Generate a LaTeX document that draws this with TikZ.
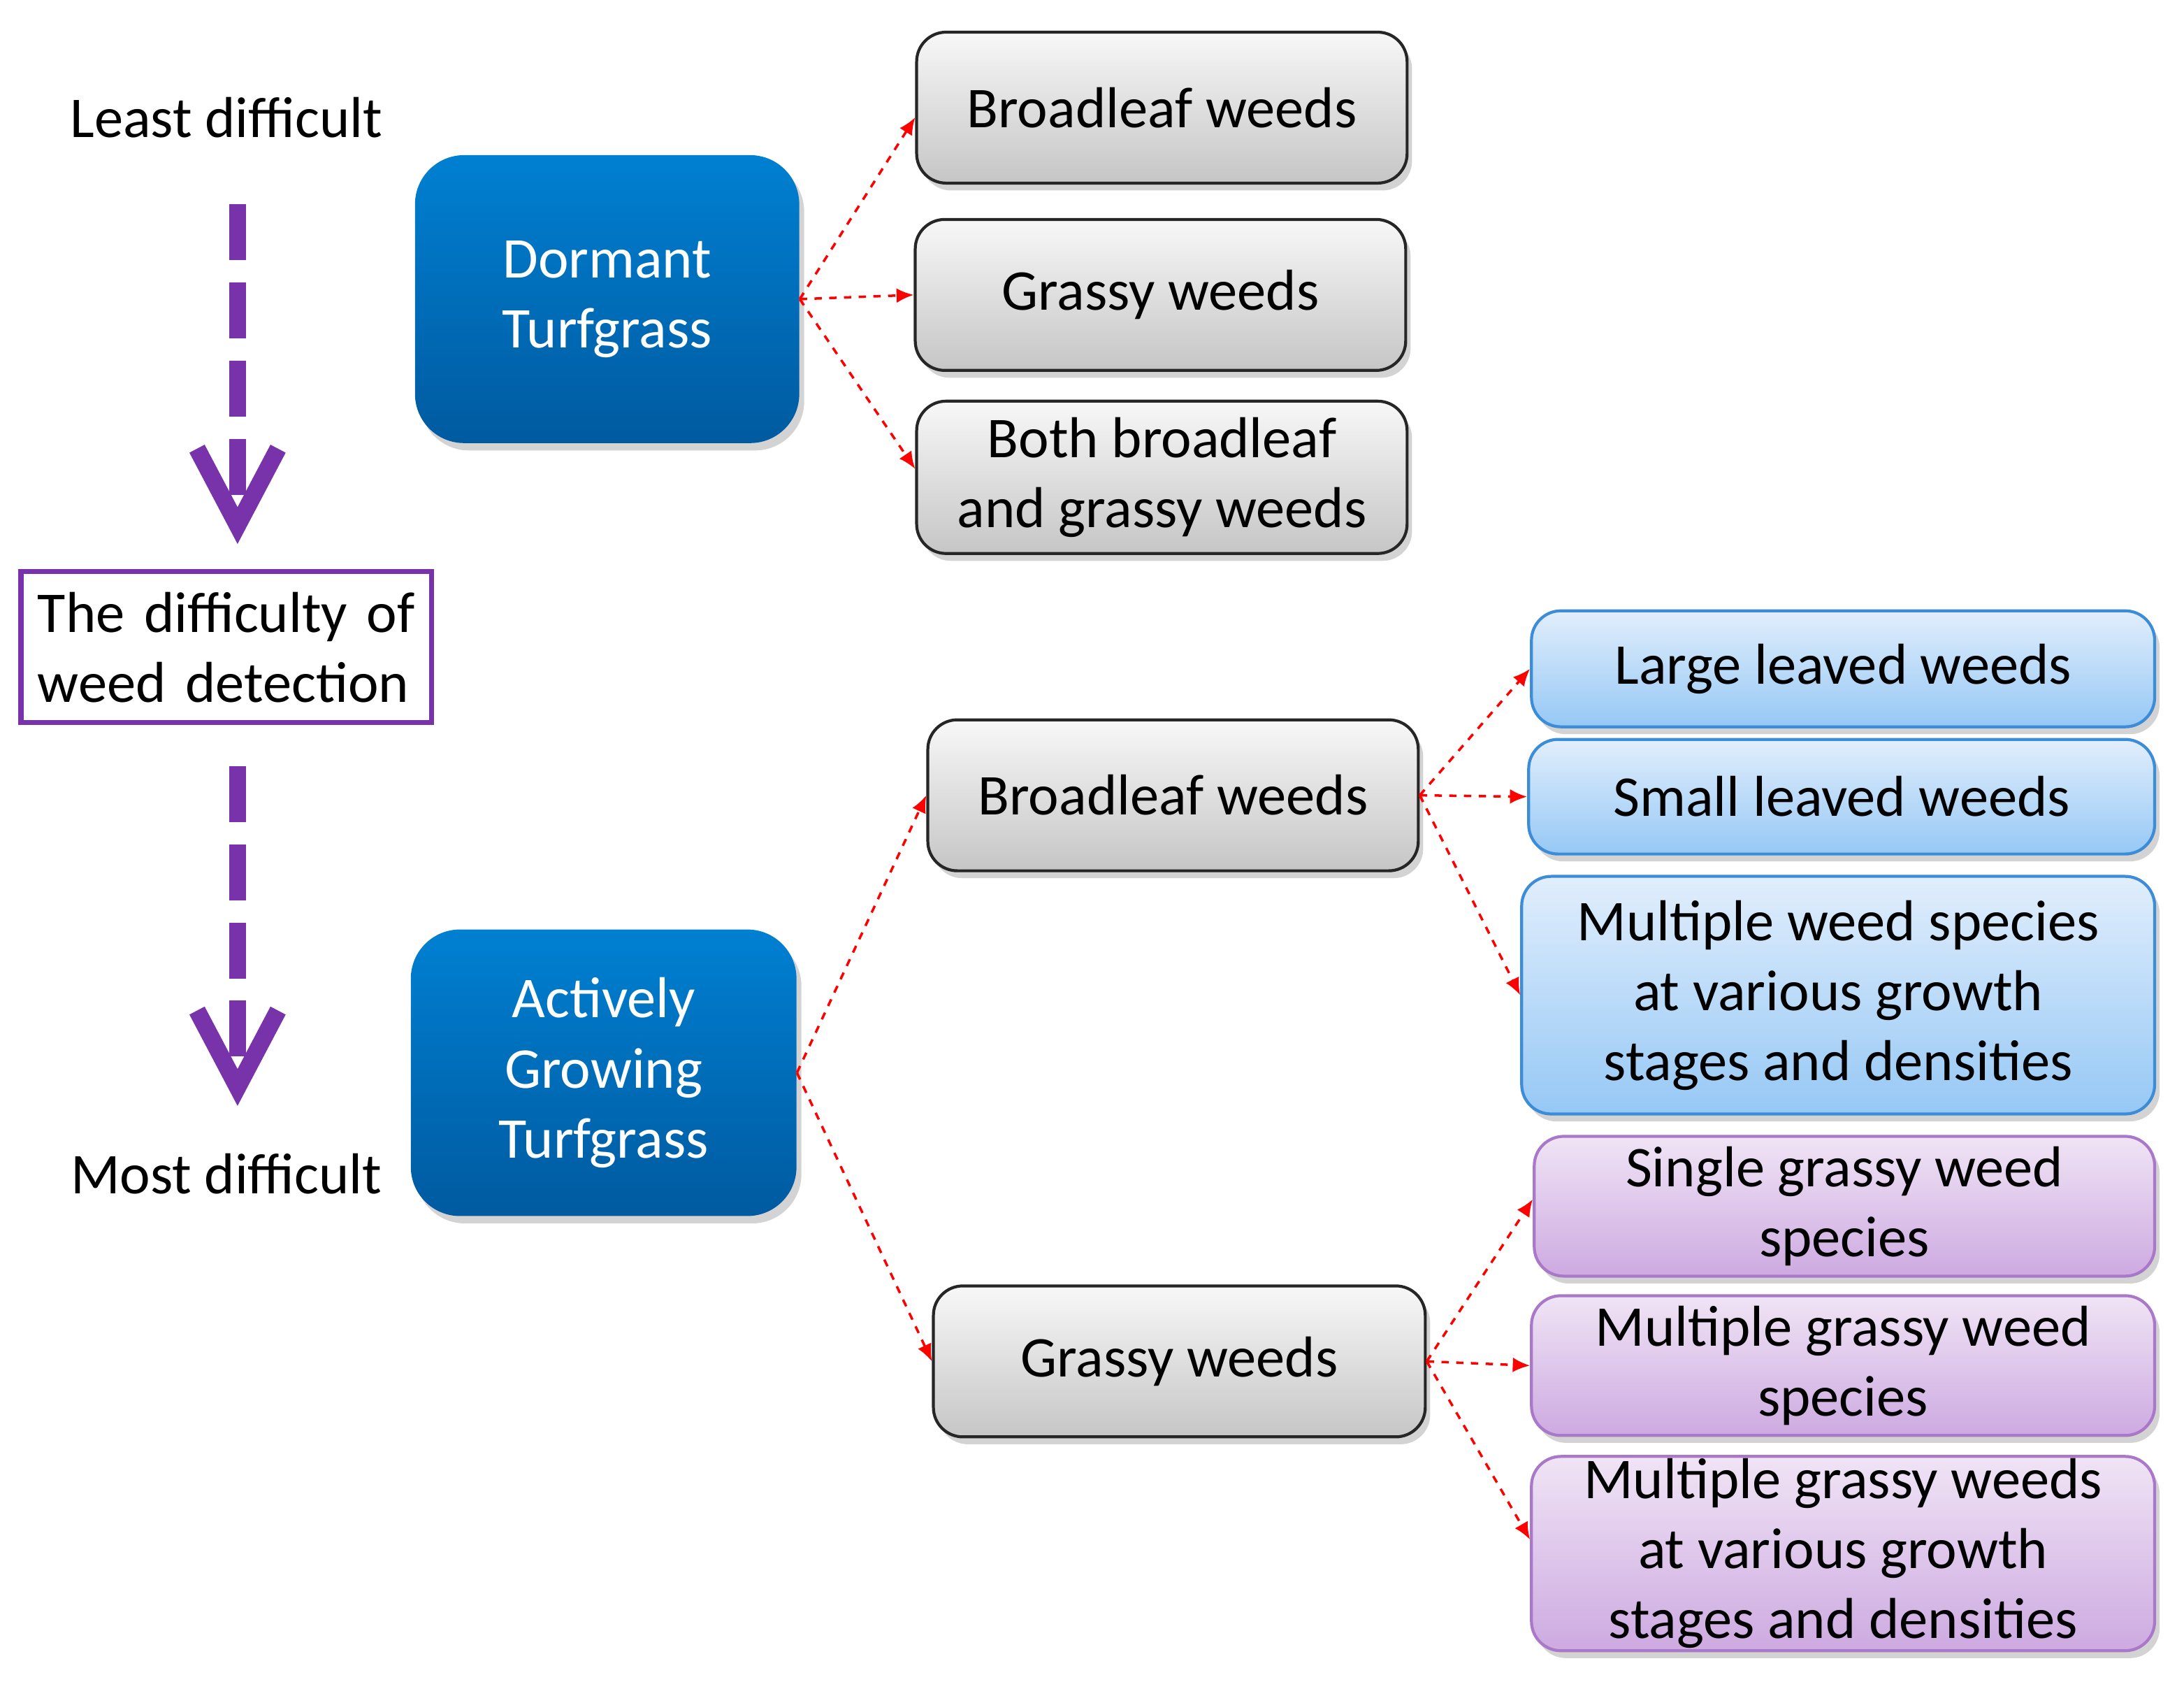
\documentclass[tikz,border=0pt]{standalone}
\usepackage{fontspec}
\setmainfont{Carlito}
\usetikzlibrary{shadows,arrows.meta}
\definecolor{bluetop}{RGB}{0,128,210}
\definecolor{bluebot}{RGB}{0,90,160}
\definecolor{purp}{RGB}{120,50,170}
\definecolor{lbtop}{RGB}{225,238,252}
\definecolor{lbbot}{RGB}{150,200,245}
\definecolor{lbdraw}{RGB}{60,140,215}
\definecolor{lptop}{RGB}{240,228,245}
\definecolor{lpbot}{RGB}{205,170,225}
\definecolor{lpdraw}{RGB}{170,120,200}
\begin{document}
\begin{tikzpicture}[x=0.02cm,y=-0.02cm,
 txt/.style={font=\fontsize{23.5}{28.5}\selectfont,align=center},
 bx/.style={txt,rounded corners=12pt,draw=black!85,line width=1.2pt,inner sep=0pt,
   drop shadow={shadow xshift=2pt,shadow yshift=-3pt,opacity=0.35}},
 gray/.style={bx,top color=gray!6,bottom color=gray!45},
 lblue/.style={bx,draw=lbdraw,top color=lbtop,bottom color=lbbot},
 lpurp/.style={bx,draw=lpdraw,top color=lptop,bottom color=lpbot},
 dblue/.style={txt,rounded corners=20pt,top color=bluetop,bottom color=bluebot,text=white,inner sep=0pt,
   drop shadow={shadow xshift=2pt,shadow yshift=-3pt,opacity=0.35}},
 con/.style={red,dashed,line width=1pt,-{Latex[length=7pt,width=6pt]}},
 big/.style={purp,line width=7pt,dash pattern=on 0.8cm off 0.32cm},
 chev/.style={purp,line width=7pt,line join=miter},
]
\useasboundingbox (0,0) rectangle (1563,1203);
\newcommand{\bxat}[7]{\node[#1,minimum width={(#4-#2)*0.02cm},minimum height={(#5-#3)*0.02cm}] (#6) at ({(#2+#4)/2},{(#3+#5)/2}) {#7};}
\node[txt] (least) at (162,84) {Least difficult};
\node[txt] (most) at (162,840) {Most difficult};
\node[txt,draw=purp,line width=2pt,align=left,text width={270*0.02cm},minimum width={294*0.02cm},minimum height={108*0.02cm},inner sep=0pt] (diff) at (162,463) {The difficulty of\\weed detection};
\coordinate (a1s) at (170,146); \coordinate (a1e) at (170,376);
\coordinate (a2s) at (170,548); \coordinate (a2e) at (170,778);
\draw[big] (a1s) -- ([yshift=0.3cm]a1e);
\draw[chev] ([xshift=-0.58cm,yshift=1.1cm]a1e) -- (a1e) -- ([xshift=0.58cm,yshift=1.1cm]a1e);
\draw[big] (a2s) -- ([yshift=0.3cm]a2e);
\draw[chev] ([xshift=-0.58cm,yshift=1.1cm]a2e) -- (a2e) -- ([xshift=0.58cm,yshift=1.1cm]a2e);
\bxat{dblue}{297}{111}{572}{317}{dorm}{Dormant\\Turfgrass}
\bxat{dblue}{294}{665}{570}{870}{act}{Actively\\Growing\\Turfgrass}
\bxat{gray}{656}{23}{1007}{131}{g1}{Broadleaf weeds}
\bxat{gray}{655}{157}{1006}{265}{g2}{Grassy weeds}
\bxat{gray}{656}{287}{1007}{396}{g3}{Both broadleaf\\and grassy weeds}
\bxat{gray}{664}{515}{1015}{623}{g4}{Broadleaf weeds}
\bxat{gray}{668}{920}{1020}{1028}{g5}{Grassy weeds}
\bxat{lblue}{1096}{437}{1542}{520}{b1}{Large leaved weeds}
\bxat{lblue}{1094}{529}{1542}{611}{b2}{Small leaved weeds}
\bxat{lblue}{1089}{627}{1542}{797}{b3}{Multiple weed species\\at various growth\\stages and densities}
\bxat{lpurp}{1098}{813}{1542}{913}{p1}{Single grassy weed\\species}
\bxat{lpurp}{1096}{927}{1542}{1027}{p2}{Multiple grassy weed\\species}
\bxat{lpurp}{1096}{1042}{1542}{1181}{p3}{Multiple grassy weeds\\at various growth\\stages and densities}
\draw[con] (dorm.east) -- ([yshift=-0.14cm]g1.west);
\draw[con] (dorm.east) -- (g2.west);
\draw[con] (dorm.east) -- ([yshift=0.12cm]g3.west);
\draw[con] (act.east) -- (g4.west);
\draw[con] (act.east) -- (g5.west);
\draw[con] (g4.east) -- (b1.west);
\draw[con] (g4.east) -- (b2.west);
\draw[con] (g4.east) -- (b3.west);
\draw[con] (g5.east) -- ([yshift=0.1cm]p1.west);
\draw[con] (g5.east) -- (p2.west);
\draw[con] (g5.east) -- ([yshift=0.2cm]p3.west);
\end{tikzpicture}
\end{document}
